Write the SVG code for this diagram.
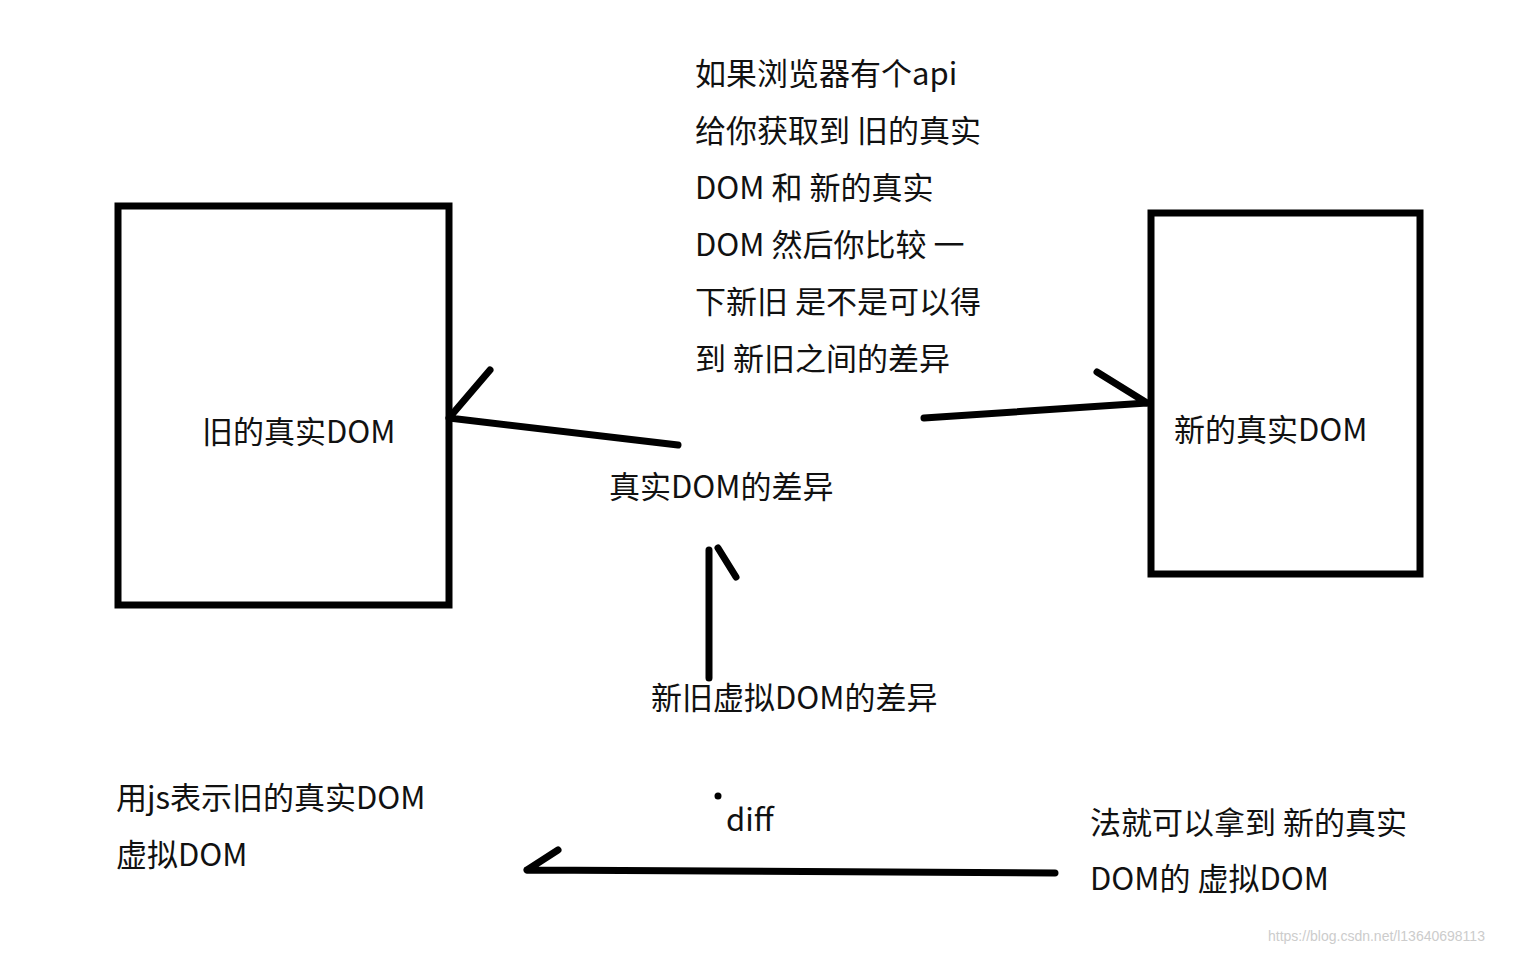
<svg xmlns="http://www.w3.org/2000/svg" width="1526" height="954" viewBox="0 0 1526 954">
<style>
text{font-family:"Microsoft YaHei","Noto Sans CJK SC",sans-serif;font-size:31px;fill:#111}
.b{fill:none;stroke:#000;stroke-width:7}
.l{fill:none;stroke:#000;stroke-width:7;stroke-linecap:round;stroke-linejoin:round}
</style>
<rect width="1526" height="954" fill="#fff"/>
<g id="old"><rect class="b" x="118" y="206" width="331" height="399"/><text x="202" y="443">旧的真实DOM</text></g>
<g id="new"><rect class="b" x="1151" y="213" width="269" height="361"/><text x="1174" y="441">新的真实DOM</text></g>
<g id="note"><text x="695" y="85">如果浏览器有个api</text><text x="695" y="142">给你获取到  旧的真实</text><text x="695" y="199">DOM  和  新的真实</text><text x="695" y="256">DOM  然后你比较 一</text><text x="695" y="313">下新旧 是不是可以得</text><text x="695" y="370">到  新旧之间的差异</text></g>
<g id="realdiff"><text x="609" y="498">真实DOM的差异</text></g>
<g id="vdiff"><text x="651" y="709">新旧虚拟DOM的差异</text></g>
<g id="js"><text x="116" y="809">用js表示旧的真实DOM</text><text x="116" y="866">虚拟DOM</text></g>
<g id="diff"><text x="726" y="831">diff</text><circle cx="718" cy="796" r="3.5" fill="#000"/></g>
<g id="newv"><text x="1090" y="834">法就可以拿到 新的真实</text><text x="1090" y="890">DOM的 虚拟DOM</text></g>
<g id="connectors">
<path class="l" d="M678 445 L449 418 M449 418 L490 370"/>
<path class="l" d="M924 418 L1147 403 M1097 372 L1147 403"/>
<path class="l" d="M709 678 L709 550 M718 548 L736 577"/>
<path class="l" d="M1055 873 L527 870 M527 870 L558 850"/>
</g>
<text x="1268" y="941" style="font-family:'Liberation Sans',sans-serif;font-size:14px;fill:#ccc">https://blog.csdn.net/l13640698113</text>
</svg>
